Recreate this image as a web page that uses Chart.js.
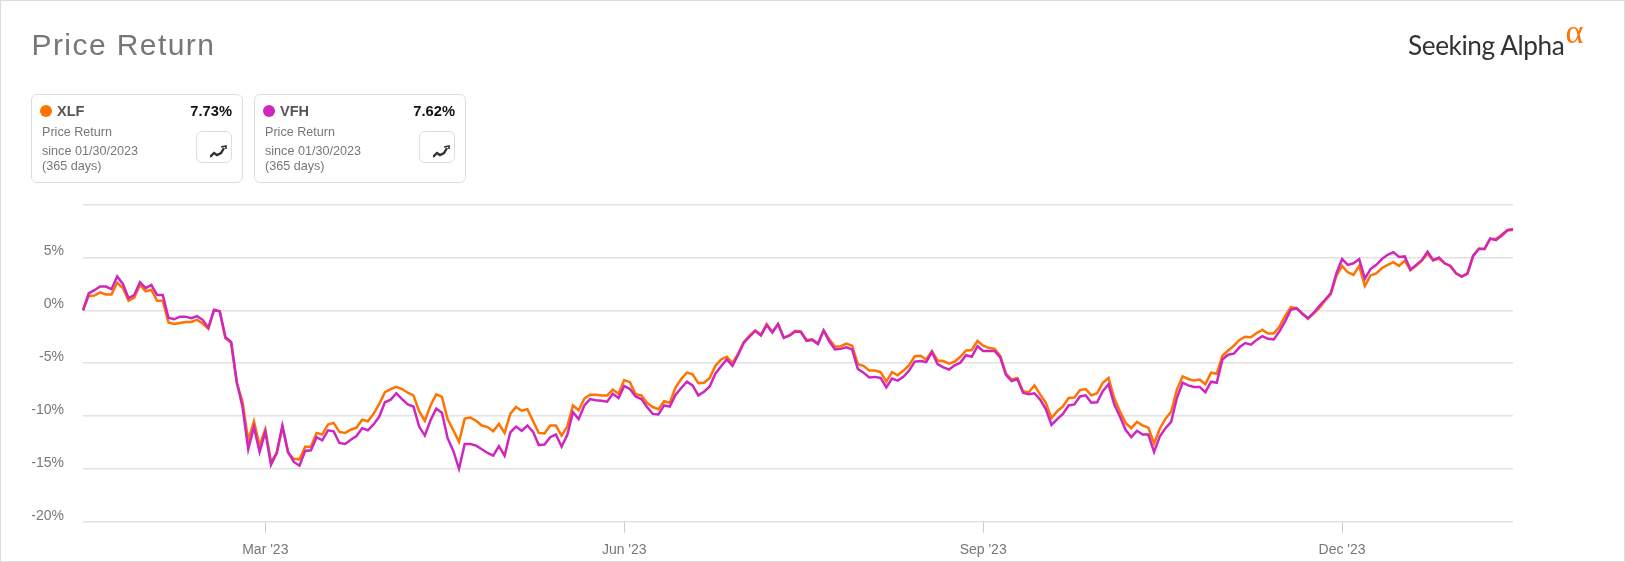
<!DOCTYPE html>
<html>
<head>
<meta charset="utf-8">
<title>Price Return</title>
<script src="https://cdn.jsdelivr.net/npm/chart.js@4"></script>
<style>
  html, body { margin: 0; padding: 0; background: #fff; }
  body { width: 1625px; height: 562px; position: relative; overflow: hidden; font-family: "Liberation Sans", Arial, sans-serif; }
  #frame { position: absolute; left: 0; top: 0; width: 1625px; height: 562px; box-sizing: border-box; border: 1px solid #ddd; }
  #chart { position: absolute; left: 0; top: 0; }
  #title { position: absolute; left: 31.5px; top: 27px; font-size: 30px; letter-spacing: 1.43px; color: #777; line-height: 36px; }
  #logo { position: absolute; left: 1408px; top: 27px; font-family: Lato, sans-serif; font-size: 26.2px; letter-spacing: -0.4px; color: #333; line-height: 36px; }
  #alpha { position: absolute; left: 1565.5px; top: 16px; font-family: "Liberation Serif", serif; font-size: 34px; color: #ff7300; line-height: 32px; }
  .card { position: absolute; top: 94px; width: 212px; height: 89px; box-sizing: border-box; border: 1px solid #ddd; border-radius: 6px; }
  .dot { position: absolute; left: 8px; top: 10px; width: 12px; height: 12px; border-radius: 50%; }
  .name { position: absolute; left: 25px; top: 8px; font-size: 14.5px; font-weight: bold; color: #555; line-height: 17px; }
  .pct { position: absolute; right: 10px; top: 8px; font-size: 14.7px; font-weight: bold; color: #111; line-height: 17px; }
  .sub { position: absolute; left: 10px; font-size: 12.6px; color: #777; line-height: 15px; white-space: nowrap; }
  .btn { position: absolute; left: 164px; top: 36px; width: 36px; height: 32px; box-sizing: border-box; border: 1px solid #ddd; border-radius: 6px; }
  .btn svg { position: absolute; left: 13px; top: 13px; }
</style>
</head>
<body>
<div id="frame"></div>
<canvas id="chart" width="1625" height="562"></canvas>
<div id="title">Price Return</div>
<div id="logo">Seeking Alpha</div>
<div id="alpha">α</div>
<div id="cards"></div>
<script>
var seriesNames = ["XLF", "VFH"];
var seriesColors = ["#ff7300", "#d026c0"];
var finalReturns = ["7.73%", "7.62%"];
var cardLeft = [31, 254];

var tickIndex = [32, 95, 158, 221];
var tickLabels = ["Mar '23", "Jun '23", "Sep '23", "Dec '23"];

var xlf = [
  0, 1.35, 1.4, 1.7, 1.5, 1.5, 2.6, 2.1, 0.9, 1.2, 2.4, 1.8, 1.95, 0.9, 0.9, -1.15, -1.3, -1.2, -1.1, -1.1,
  -0.9, -1.25, -1.75, 0, -0.1, -2.65, -3.05, -6.9, -8.65, -12.3, -10.5, -12.8, -11.25, -14.35, -13.5, -11.05, -13.5, -14.05, -14.1, -12.9,
  -12.9, -11.6, -11.75, -10.8, -10.65, -11.5, -11.6, -11.3, -11.1, -10.35, -10.5, -9.8, -8.85, -7.75, -7.45, -7.25, -7.45, -7.8, -8.05, -9.55,
  -10.45, -9, -7.95, -8.2, -10.3, -11.35, -12.45, -10.25, -10.15, -10.45, -10.9, -11.05, -11.45, -10.75, -11.6, -9.8, -9.15, -9.5, -9.35, -10.5,
  -11.6, -11.65, -10.9, -10.9, -11.85, -11, -9, -9.45, -8.35, -8, -8, -8.05, -8.05, -7.5, -7.9, -6.6, -6.8, -7.95, -8.05, -8.75,
  -9.15, -9.35, -8.6, -8.75, -7.3, -6.5, -5.9, -6.05, -6.9, -6.85, -6.4, -5.25, -4.65, -4.4, -5, -4.1, -3, -2.4, -1.9, -2.3,
  -1.3, -2.05, -1.3, -2.6, -2.35, -1.95, -2, -2.8, -2.75, -3.15, -1.9, -2.75, -3.45, -3.4, -3.15, -3.35, -5.1, -5.25, -5.7, -5.7,
  -5.85, -6.75, -5.85, -6.15, -5.7, -5.2, -4.35, -4.3, -4.65, -3.85, -4.75, -4.8, -5.05, -4.85, -4.4, -3.8, -3.75, -2.9, -3.35, -3.55,
  -3.65, -4.3, -6, -6.55, -6.4, -7.65, -7.75, -7.1, -7.95, -8.75, -10.2, -9.55, -9.1, -8.3, -8.25, -7.55, -7.45, -8.05, -7.85, -6.85,
  -6.4, -8.3, -9.55, -10.65, -11.15, -10.55, -10.9, -11.1, -12.6, -11.2, -10.25, -9.6, -7.5, -6.25, -6.5, -6.65, -6.55, -7, -5.9, -6,
  -4.3, -3.8, -3.35, -2.8, -2.5, -2.55, -2.15, -1.85, -2.2, -2.2, -1.55, -0.55, 0.3, 0.2, -0.3, -0.8, -0.3, 0.2, 0.9, 1.5,
  3.25, 4.2, 3.6, 3.35, 4.2, 2.3, 3.3, 3.5, 4, 4.3, 4.55, 4.2, 4.7, 3.8, 4.2, 4.7, 5.35, 4.7, 4.9, 4.45,
  4.2, 3.5, 3.2, 3.5, 5.15, 5.85, 5.8, 6.75, 6.75, 7.15, 7.6, 7.73
];

var vfh = [
  0, 1.6, 1.9, 2.25, 2.25, 2, 3.2, 2.5, 1.15, 1.45, 2.65, 2.1, 2.4, 1.45, 1.45, -0.7, -0.85, -0.6, -0.6, -0.75,
  -0.55, -0.9, -1.65, 0.05, -0.1, -2.55, -3, -6.8, -9.15, -13.15, -11.05, -13.4, -11.5, -14.6, -13.5, -10.9, -13.4, -14.35, -14.7, -13.3,
  -13.25, -12, -12.3, -11.35, -11.45, -12.55, -12.65, -12.25, -11.9, -11.15, -11.35, -10.8, -10.05, -8.7, -8.45, -7.85, -8.4, -8.9, -9.1, -11,
  -11.85, -10.4, -9.3, -9.7, -12.1, -13.3, -15, -12.65, -12.65, -12.8, -13.15, -13.5, -13.75, -12.85, -13.75, -11.55, -11, -11.4, -10.9, -11.5,
  -12.75, -12.7, -12, -11.75, -12.9, -11.8, -9.65, -10.3, -9, -8.4, -8.5, -8.55, -8.65, -7.9, -8.3, -7.15, -7.45, -8.15, -8.4, -9.15,
  -9.8, -9.85, -9, -9.1, -8, -7.35, -6.75, -7.1, -8.05, -7.7, -7.2, -6, -5.3, -4.65, -5.25, -4.2, -3.05, -2.5, -1.95, -2.4,
  -1.4, -2.1, -1.3, -2.6, -2.4, -2, -2.05, -2.9, -2.8, -3.2, -1.9, -2.95, -3.7, -3.65, -3.5, -3.7, -5.55, -5.9, -6.35, -6.3,
  -6.4, -7.3, -6.45, -6.65, -6.3, -5.7, -4.85, -4.8, -4.9, -3.95, -5.1, -5.4, -5.6, -5.2, -4.95, -4.25, -4.4, -3.4, -3.85, -3.85,
  -3.85, -4.45, -6.1, -6.7, -6.5, -7.8, -7.95, -7.85, -8.45, -9.35, -10.85, -10.3, -9.8, -9, -8.9, -8.15, -8.05, -8.75, -8.7, -7.65,
  -7, -8.9, -10.05, -11.3, -12, -11.4, -11.75, -11.75, -13.4, -11.95, -11.15, -10.55, -8.3, -6.85, -7.1, -7.25, -7.25, -7.75, -6.75, -6.85,
  -4.65, -4.2, -4.1, -3.5, -3.1, -3.25, -2.8, -2.45, -2.7, -2.75, -2, -1.05, 0.05, 0.2, -0.3, -0.75, -0.25, 0.4, 1, 1.6,
  3.5, 4.85, 4.3, 4.45, 4.85, 3, 3.9, 4.3, 4.85, 5.25, 5.5, 5.05, 5.1, 3.85, 4.3, 4.75, 5.55, 4.75, 5, 4.45,
  4.2, 3.5, 3.2, 3.45, 5.15, 5.8, 5.8, 6.8, 6.65, 7.05, 7.55, 7.62
];

var sessions = xlf.map(function(v, i) { return i; });

// cards above the plot
var cards = document.getElementById("cards");
seriesNames.forEach(function(name, i) {
  var el = document.createElement("div");
  el.className = "card";
  el.style.left = cardLeft[i] + "px";
  el.innerHTML =
    '<div class="dot" style="background:' + seriesColors[i] + '"></div>' +
    '<div class="name">' + name + '</div>' +
    '<div class="pct">' + finalReturns[i] + '</div>' +
    '<div class="sub" style="top:30px">Price Return</div>' +
    '<div class="sub" style="top:49px">since 01/30/2023</div>' +
    '<div class="sub" style="top:64px">(365 days)</div>' +
    '<div class="btn"><svg width="17" height="13" viewBox="0 0 17 13"><path d="M0 12 L4 8 L7 10 L11 8 L14 3" fill="none" stroke="#333" stroke-width="2.4"/><path d="M11 2 L16 1 L16 4" fill="none" stroke="#333" stroke-width="1.6"/></svg></div>';
  cards.appendChild(el);
});

new Chart(document.getElementById("chart").getContext("2d"), {
  type: "line",
  data: {
    labels: sessions,
    datasets: [
      // chart.js draws lower order on top, VFH sits over XLF
      { label: seriesNames[0], data: xlf, order: 2, borderColor: seriesColors[0], borderWidth: 2.5, pointRadius: 0, tension: 0 },
      { label: seriesNames[1], data: vfh, order: 1, borderColor: seriesColors[1], borderWidth: 2.5, pointRadius: 0, tension: 0 }
    ]
  },
  options: {
    responsive: false,
    animation: false,
    layout: { padding: { top: 204.6, right: 112, bottom: 0, left: 0 } },
    plugins: { legend: { display: false }, tooltip: { enabled: false } },
    scales: {
      x: {
        type: "category",
        offset: false,
        afterBuildTicks: function(scale) {
          scale.ticks = tickIndex.map(function(v) { return { value: v }; });
        },
        afterFit: function(scale) { scale.height = 40.3; },
        grid: { drawOnChartArea: false, drawTicks: true, tickLength: 11, color: "#ccc" },
        border: { display: false },
        ticks: {
          autoSkip: false,
          maxRotation: 0,
          padding: 9,
          color: "#777",
          font: { family: "Liberation Sans", size: 14 },
          callback: function(value) { return tickLabels[tickIndex.indexOf(value)]; }
        }
      },
      y: {
        min: -20,
        max: 10,
        afterFit: function(scale) { scale.width = 83; },
        grid: { color: "#e2e2e2", lineWidth: 1.5, drawTicks: false },
        border: { display: false },
        ticks: {
          stepSize: 5,
          padding: 19,
          labelOffset: -6,
          color: "#777",
          font: { family: "Liberation Sans", size: 14 },
          callback: function(value) { return value === 10 ? "" : value + "%"; }
        }
      }
    }
  }
});
</script>
</body>
</html>
